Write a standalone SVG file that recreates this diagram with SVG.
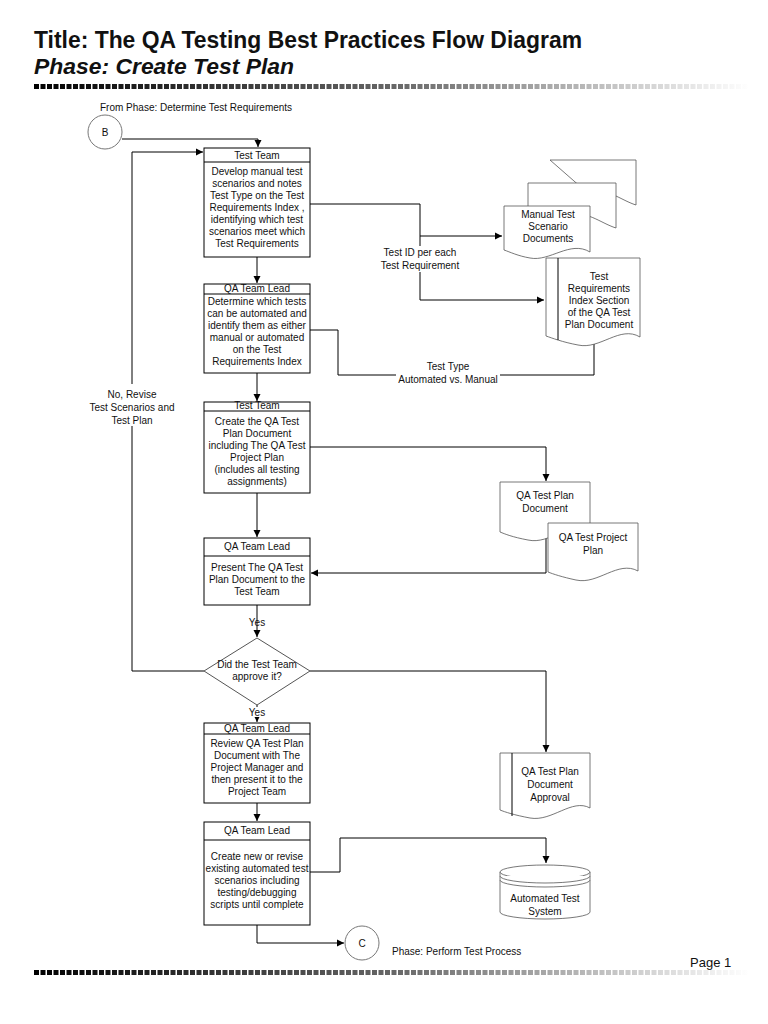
<svg xmlns="http://www.w3.org/2000/svg" width="768" height="1024" viewBox="0 0 768 1024">
<style>
text{font-family:"Liberation Sans",Arial,sans-serif;fill:#111}
.t{font-size:10px;text-anchor:middle}
.l{font-size:10px}
.box{fill:#fff;stroke:#000;stroke-width:1}
.doc{fill:#fff;stroke:#555;stroke-width:0.8}
.c{fill:none;stroke:#000;stroke-width:1}
</style>
<defs>
<linearGradient id="g" gradientUnits="userSpaceOnUse" x1="34" y1="0" x2="750" y2="0">
<stop offset="0" stop-color="#000"/><stop offset="0.5" stop-color="#666"/><stop offset="1" stop-color="#fff"/>
</linearGradient>
<marker id="a" markerWidth="8" markerHeight="8" refX="7" refY="4" orient="auto" markerUnits="userSpaceOnUse"><path d="M0,0.5 L7,4 L0,7.5 Z" fill="#000"/></marker>
</defs>
<rect width="768" height="1024" fill="#fff"/>
<text x="34" y="48" style="font-size:24px;font-weight:bold" textLength="548" lengthAdjust="spacingAndGlyphs">Title:  The QA Testing Best Practices Flow Diagram</text>
<text x="34" y="74" style="font-size:22px;font-weight:bold;font-style:italic" textLength="260" lengthAdjust="spacingAndGlyphs">Phase: Create Test Plan</text>
<line x1="34" y1="86.5" x2="750" y2="86.5" stroke="url(#g)" stroke-width="5" stroke-dasharray="5 1.5"/>
<line x1="34" y1="972.5" x2="750" y2="972.5" stroke="url(#g)" stroke-width="5" stroke-dasharray="5 1.5"/>
<text x="690" y="967" style="font-size:13px">Page 1</text>
<text x="100" y="111" class="l">From Phase: Determine Test Requirements</text>
<text x="392" y="955" class="l">Phase: Perform Test Process</text>

<g id="connectors">
<path class="c" d="M122,139 H258 V147" marker-end="url(#a)"/>
<path class="c" d="M257,257 V283" marker-end="url(#a)"/>
<path class="c" d="M257,373 V401" marker-end="url(#a)"/>
<path class="c" d="M257,493 V537" marker-end="url(#a)"/>
<path class="c" d="M257,605 V637" marker-end="url(#a)"/>
<path class="c" d="M257,705 V722" marker-end="url(#a)"/>
<path class="c" d="M257,803 V821" marker-end="url(#a)"/>
<path class="c" d="M257,925 V943 H344" marker-end="url(#a)"/>
<path class="c" d="M204,671 H132 V152 H203" marker-end="url(#a)"/>
<path class="c" d="M310,204 H420 V236 H502" marker-end="url(#a)"/>
<path class="c" d="M420,236 V300 H544" marker-end="url(#a)"/>
<path class="c" d="M310,330 H338 V375 H594 V336" marker-end="url(#a)"/>
<path class="c" d="M310,447 H546 V481" marker-end="url(#a)"/>
<path class="c" d="M546,538 V573 H311" marker-end="url(#a)"/>
<path class="c" d="M310,671 H546 V752" marker-end="url(#a)"/>
<path class="c" d="M310,872 H340 V838 H546 V863" marker-end="url(#a)"/>
<rect x="370" y="246" width="100" height="26" fill="#fff"/>
<text x="420" y="256" class="t">Test ID per each</text>
<text x="420" y="269" class="t">Test Requirement</text>
<text x="448" y="370" class="t">Test Type</text>
<rect x="396" y="373" width="104" height="11" fill="#fff"/>
<text x="448" y="383" class="t">Automated vs. Manual</text>
<rect x="84" y="384" width="96" height="42" fill="#fff"/>
<text x="132" y="398" class="t">No, Revise</text>
<text x="132" y="411" class="t">Test Scenarios and</text>
<text x="132" y="424" class="t">Test Plan</text>
<text x="257" y="626" class="t">Yes</text>
<rect x="244" y="707" width="26" height="10" fill="#fff"/>
<text x="257" y="716" class="t">Yes</text>
</g>

<g id="B"><circle cx="105" cy="132" r="17" fill="#fff" stroke="#777"/><text x="105" y="136" class="t">B</text></g>
<g id="C"><circle cx="362" cy="943" r="17" fill="#fff" stroke="#777"/><text x="362" y="947" class="t">C</text></g>

<g id="n1"><rect class="box" x="204" y="148" width="106" height="109"/><line x1="204" y1="162" x2="310" y2="162" stroke="#000"/>
<text x="257" y="159" class="t">Test Team</text>
<text class="t"><tspan x="257" y="175">Develop manual test</tspan><tspan x="257" y="187">scenarios and notes</tspan><tspan x="257" y="199">Test Type on the Test</tspan><tspan x="257" y="211">Requirements Index ,</tspan><tspan x="257" y="223">identifying which test</tspan><tspan x="257" y="235">scenarios meet which</tspan><tspan x="257" y="247">Test Requirements</tspan></text></g>

<g id="n2"><rect class="box" x="204" y="284" width="106" height="89"/><line x1="204" y1="294" x2="310" y2="294" stroke="#000"/>
<text x="257" y="292" class="t">QA Team Lead</text>
<text class="t"><tspan x="257" y="305">Determine which tests</tspan><tspan x="257" y="317">can be automated and</tspan><tspan x="257" y="329">identify them as either</tspan><tspan x="257" y="341">manual or automated</tspan><tspan x="257" y="353">on the Test</tspan><tspan x="257" y="365">Requirements Index</tspan></text></g>

<g id="n3"><rect class="box" x="204" y="402" width="106" height="91"/><line x1="204" y1="411" x2="310" y2="411" stroke="#000"/>
<text x="257" y="409" class="t">Test Team</text>
<text class="t"><tspan x="257" y="425">Create the QA Test</tspan><tspan x="257" y="437">Plan  Document</tspan><tspan x="257" y="449">including The QA Test</tspan><tspan x="257" y="461">Project Plan</tspan><tspan x="257" y="473">(includes all testing</tspan><tspan x="257" y="485">assignments)</tspan></text></g>

<g id="n4"><rect class="box" x="204" y="538" width="106" height="67"/><line x1="204" y1="556" x2="310" y2="556" stroke="#000"/>
<text x="257" y="550" class="t">QA Team Lead</text>
<text class="t"><tspan x="257" y="571">Present The QA Test</tspan><tspan x="257" y="583">Plan Document to the</tspan><tspan x="257" y="595">Test Team</tspan></text></g>

<g id="d"><path d="M257,638 L310,671 L257,705 L204,671 Z" fill="#fff" stroke="#555"/>
<text x="257" y="668" class="t">Did the Test Team</text><text x="257" y="680" class="t">approve it?</text></g>

<g id="n5"><rect class="box" x="204" y="723" width="106" height="80"/><line x1="204" y1="734" x2="310" y2="734" stroke="#000"/>
<text x="257" y="732" class="t">QA Team Lead</text>
<text class="t"><tspan x="257" y="747">Review QA Test Plan</tspan><tspan x="257" y="759">Document with The</tspan><tspan x="257" y="771">Project Manager and</tspan><tspan x="257" y="783">then present it to the</tspan><tspan x="257" y="795">Project Team</tspan></text></g>

<g id="n6"><rect class="box" x="204" y="822" width="106" height="103"/><line x1="204" y1="840" x2="310" y2="840" stroke="#000"/>
<text x="257" y="834" class="t">QA Team Lead</text>
<text class="t"><tspan x="257" y="860">Create new or revise</tspan><tspan x="257" y="872">existing automated test</tspan><tspan x="257" y="884">scenarios including</tspan><tspan x="257" y="896">testing/debugging</tspan><tspan x="257" y="908">scripts until complete</tspan></text></g>

<g id="manualdocs">
<path class="doc" d="M550,160 H636 V205 C620,200 604,185 590,195 Z"/>
<path class="doc" d="M528,183 H616 V228 C600,223 584,208 570,218 L528,218 Z"/>
<path class="doc" d="M504,206 H590 V252 C570,240 550,262 530,258 C518,256 510,252 504,250 Z"/>
<text class="t"><tspan x="548" y="218">Manual Test</tspan><tspan x="548" y="230">Scenario</tspan><tspan x="548" y="242">Documents</tspan></text>
</g>
<g id="reqdoc">
<path class="doc" d="M546,258 H640 V337 C620,325 600,350 578,345 C562,342 552,338 546,336 Z"/>
<line x1="558" y1="258" x2="558" y2="340" stroke="#000"/>
<text class="t"><tspan x="599" y="280">Test</tspan><tspan x="599" y="292">Requirements</tspan><tspan x="599" y="304">Index Section</tspan><tspan x="599" y="316">of the QA Test</tspan><tspan x="599" y="328">Plan Document</tspan></text>
</g>
<g id="plandoc">
<path class="doc" d="M500,482 H590 V530 C570,520 550,545 528,540 C512,537 505,534 500,532 Z"/>
<text class="t"><tspan x="545" y="499">QA Test Plan</tspan><tspan x="545" y="512">Document</tspan></text>
</g>
<g id="projplan">
<path class="doc" d="M548,523 H638 V571 C618,560 598,585 576,580 C562,577 553,574 548,572 Z"/>
<text class="t"><tspan x="593" y="541">QA Test Project</tspan><tspan x="593" y="554">Plan</tspan></text>
</g>
<g id="approval">
<path class="doc" d="M500,753 H590 V808 C572,798 552,822 530,818 C514,815 505,812 500,810 Z"/>
<line x1="512" y1="753" x2="512" y2="816" stroke="#000"/>
<text class="t"><tspan x="550" y="775">QA Test Plan</tspan><tspan x="550" y="788">Document</tspan><tspan x="550" y="801">Approval</tspan></text>
</g>
<g id="cyl">
<path class="doc" d="M500,872 V912 A45,7 0 0 0 590,912 V872"/>
<ellipse class="doc" cx="545" cy="872" rx="45" ry="7"/>
<path class="doc" d="M500,876 A45,7 0 0 0 590,876 M500,880 A45,7 0 0 0 590,880" fill="none"/>
<text class="t"><tspan x="545" y="902">Automated Test</tspan><tspan x="545" y="915">System</tspan></text>
</g>
</svg>
